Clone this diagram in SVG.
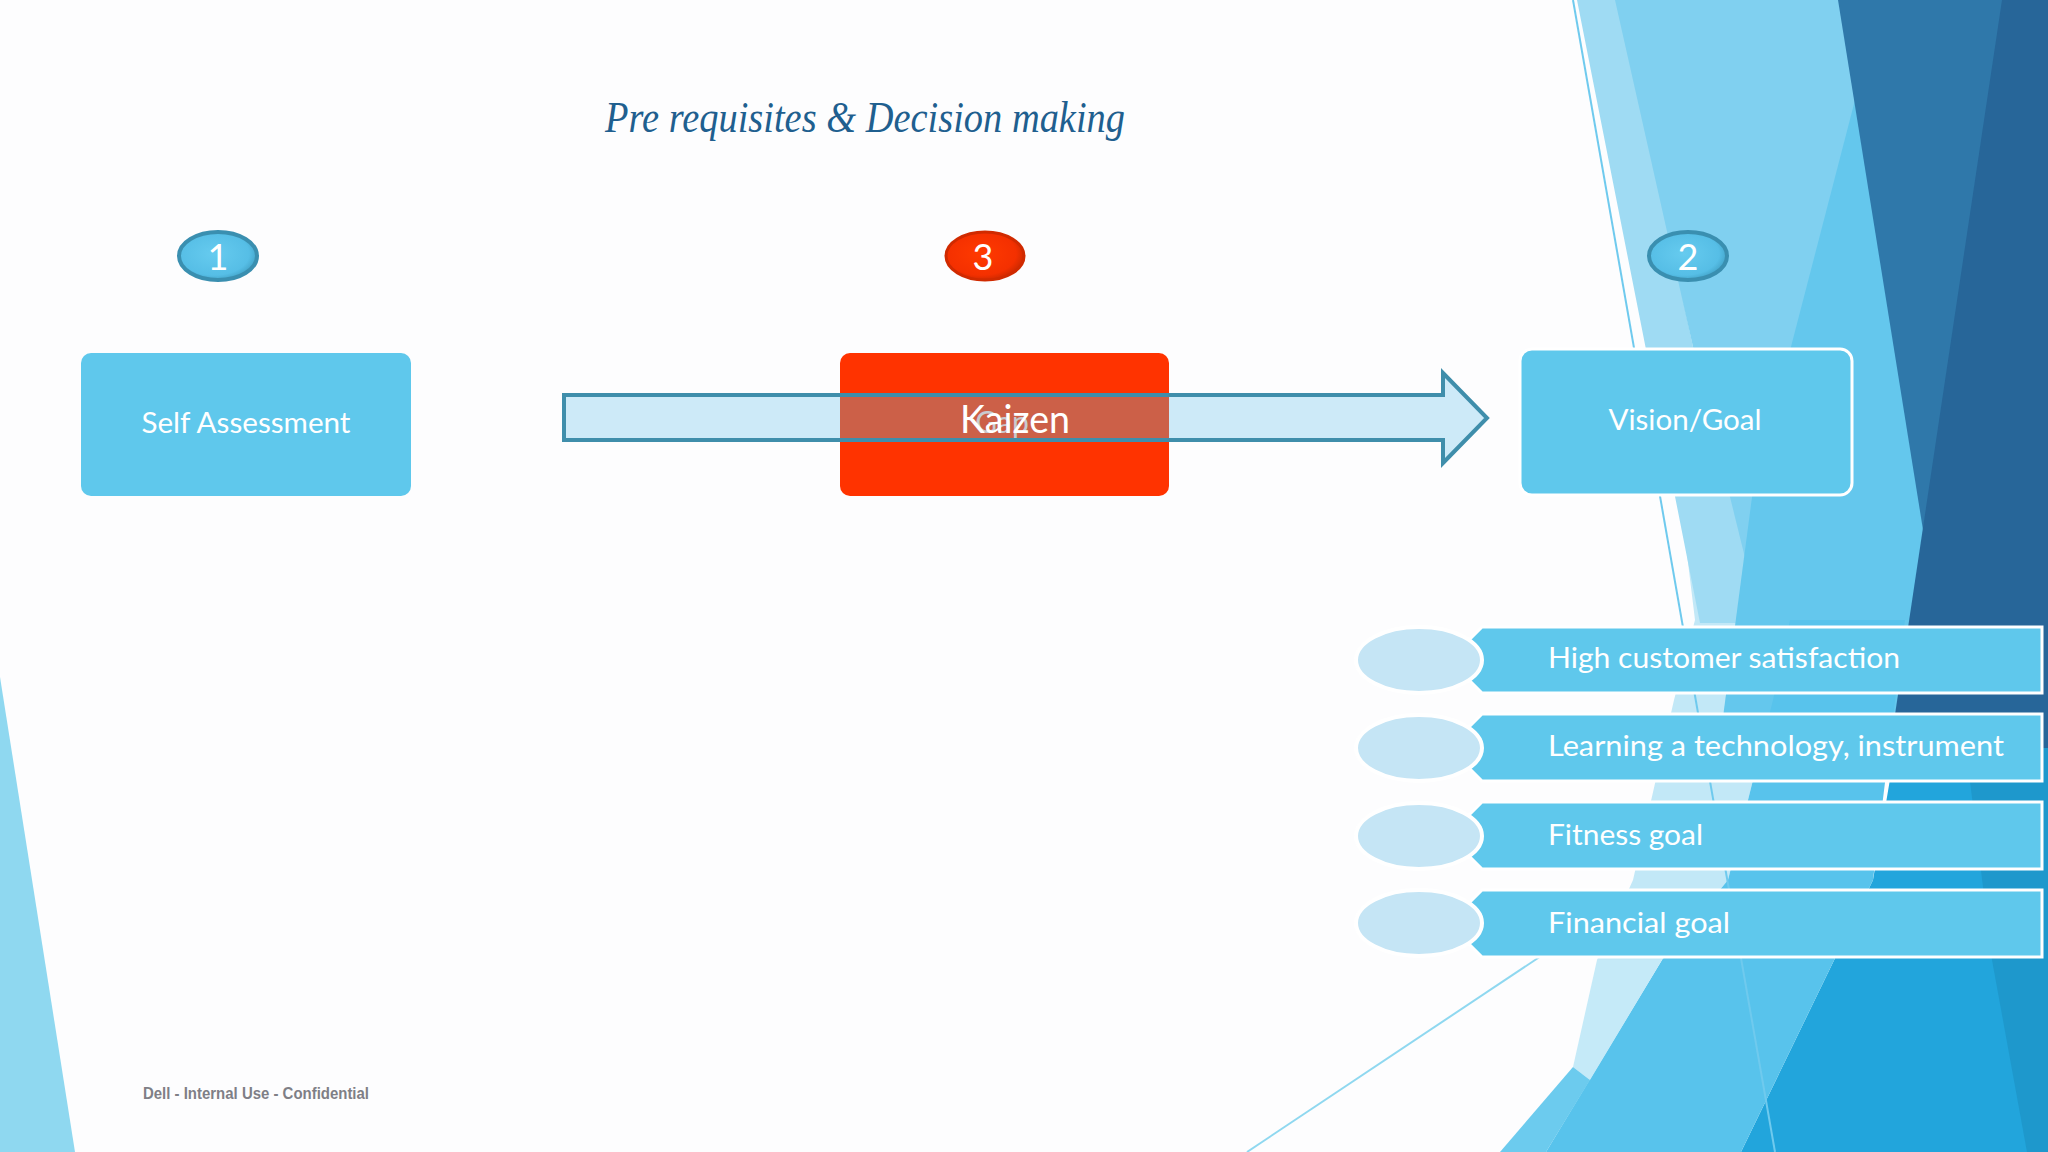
<svg xmlns="http://www.w3.org/2000/svg" width="2048" height="1152" viewBox="0 0 2048 1152">
<defs>
<style>
.box{fill:#5fc8ec}
.lbl{font-family:Lato,"Open Sans","Liberation Sans",sans-serif;fill:#ffffff}
.num{font-family:Lato,"Open Sans","Liberation Sans",sans-serif;fill:#ffffff;font-size:36px;text-anchor:middle}
.bar{fill:#5fc8ec;stroke:#ffffff;stroke-width:3}
.bub{fill:#c5e5f5;stroke:#ffffff;stroke-width:4}
.item{font-family:Lato,"Open Sans","Liberation Sans",sans-serif;fill:#ffffff;font-size:29px}
</style>
<radialGradient id="gBlue" cx="0.45" cy="0.45" r="0.6">
<stop offset="0" stop-color="#66cbef"/>
<stop offset="0.75" stop-color="#56bee6"/>
<stop offset="1" stop-color="#3d9cc0"/>
</radialGradient>
<radialGradient id="gRed" cx="0.45" cy="0.45" r="0.6">
<stop offset="0" stop-color="#ff3a00"/>
<stop offset="0.75" stop-color="#f43000"/>
<stop offset="1" stop-color="#c42800"/>
</radialGradient>
</defs>

<g id="background">
<rect x="0" y="0" width="2048" height="1152" fill="#fdfdfe"/>
<polygon points="0,677 75,1152 0,1152" fill="#8fd8f0"/>
<line x1="1247" y1="1152" x2="2048" y2="618" stroke="#8fd8f0" stroke-width="2"/>
<polygon points="1680,497 1735,497 1795,640 1773,700 1728,880 1662,960 1597,960 1633,880 1674,700 1695,620" fill="#c2e8f7"/>
<polygon points="1577,0 1620,0 1693,347 1781,623 1700,623" fill="#9fdbf3"/>
<polygon points="1615,0 1845,0 1960,740 1790,740 1693,347" fill="#80d0f0"/>
<polygon points="1855,100 1960,740 1720,740 1752,497" fill="#64c7ed"/>
<polygon points="2048,600 2048,1152 1741,1152 1873,880 1900,720" fill="#22a5dc"/>
<polygon points="2048,600 2048,1152 2027,1152 1992,960 1960,700" fill="#1e98cc"/>
<polygon points="1790,620 1905,620 1873,880 1741,1152 1546,1152 1662,960 1728,880 1773,700" fill="#58c3ec"/>
<polygon points="1597,960 1662,960 1590,1080 1573,1067" fill="#c5eaf8"/>
<polygon points="1573,1067 1590,1080 1546,1152 1500,1152" fill="#6ccbee"/>
<polygon points="1838,0 2048,0 2048,748 1958,748" fill="#2f78aa"/>
<polygon points="2002,0 2048,0 2048,748 1890,748" fill="#276699"/>
<line x1="1573" y1="0" x2="1775" y2="1152" stroke="#6fcaee" stroke-width="2"/>
</g>

<text x="605" y="132" font-family="'Liberation Serif',serif" font-style="italic" font-size="44" fill="#1f5f8f" textLength="520" lengthAdjust="spacingAndGlyphs">Pre requisites &amp; Decision making</text>

<g id="node-self-assessment">
<rect class="box" x="81" y="353" width="330" height="143" rx="10"/>
<text class="lbl" x="246" y="433" font-size="28" text-anchor="middle" textLength="209" lengthAdjust="spacingAndGlyphs">Self Assessment</text>
</g>

<g id="node-kaizen">
<rect x="840" y="353" width="329" height="143" rx="10" fill="#ff3300"/>
</g>

<g id="node-vision">
<rect class="box" x="1520" y="349" width="332" height="146" rx="12" stroke="#ffffff" stroke-width="3"/>
<text class="lbl" x="1685" y="430" font-size="28" text-anchor="middle" textLength="153" lengthAdjust="spacingAndGlyphs">Vision/Goal</text>
</g>

<g id="connectors">
<polygon points="564,395 1443,395 1443,373 1487,418 1443,463 1443,440 564,440" fill="#cdeaf8" stroke="#3f8eab" stroke-width="4" stroke-linejoin="miter"/>
<rect x="840" y="397" width="329" height="41" fill="#cc6048"/>
<text x="1002" y="433" font-family="Lato,'Open Sans','Liberation Sans',sans-serif" font-size="30" fill="#c9dde6" text-anchor="middle" opacity="0.85">Gap</text>
</g>

<g id="node-kaizen-label">
<text class="lbl" x="1015" y="433" font-size="38" text-anchor="middle" textLength="110" lengthAdjust="spacingAndGlyphs">Kaizen</text>
</g>

<g id="badge-1">
<ellipse cx="218" cy="256" rx="39" ry="24" fill="url(#gBlue)" stroke="#3a8fb0" stroke-width="4"/>
<text class="num" x="218" y="270">1</text>
</g>
<g id="badge-3">
<ellipse cx="985" cy="256" rx="39" ry="24" fill="url(#gRed)" stroke="#d02a00" stroke-width="3"/>
<text class="num" x="983" y="270">3</text>
</g>
<g id="badge-2">
<ellipse cx="1688" cy="256" rx="39" ry="24" fill="url(#gBlue)" stroke="#3a8fb0" stroke-width="4"/>
<text class="num" x="1688" y="270">2</text>
</g>

<g id="item-1">
<path class="bar" d="M1482,627 L2042,627 L2042,693 L1482,693 L1468,679 L1468,641 Z"/>
<ellipse class="bub" cx="1419" cy="660" rx="63" ry="33"/>
<text class="item" x="1548" y="668" textLength="352" lengthAdjust="spacingAndGlyphs">High customer satisfaction</text>
</g>
<g id="item-2">
<path class="bar" d="M1482,714 L2042,714 L2042,781 L1482,781 L1468,767 L1468,728 Z"/>
<ellipse class="bub" cx="1419" cy="748" rx="63" ry="33"/>
<text class="item" x="1548" y="756" textLength="456" lengthAdjust="spacingAndGlyphs">Learning a technology, instrument</text>
</g>
<g id="item-3">
<path class="bar" d="M1482,802 L2042,802 L2042,869 L1482,869 L1468,855 L1468,816 Z"/>
<ellipse class="bub" cx="1419" cy="836" rx="63" ry="33"/>
<text class="item" x="1548" y="845" textLength="155" lengthAdjust="spacingAndGlyphs">Fitness goal</text>
</g>
<g id="item-4">
<path class="bar" d="M1482,890 L2042,890 L2042,957 L1482,957 L1468,943 L1468,904 Z"/>
<ellipse class="bub" cx="1419" cy="923" rx="63" ry="33"/>
<text class="item" x="1548" y="933" textLength="182" lengthAdjust="spacingAndGlyphs">Financial goal</text>
</g>

<text x="143" y="1099" font-family="'Liberation Sans',Arial,sans-serif" font-weight="bold" font-size="17" fill="#7f7f86" textLength="226" lengthAdjust="spacingAndGlyphs">Dell - Internal Use - Confidential</text>
</svg>
